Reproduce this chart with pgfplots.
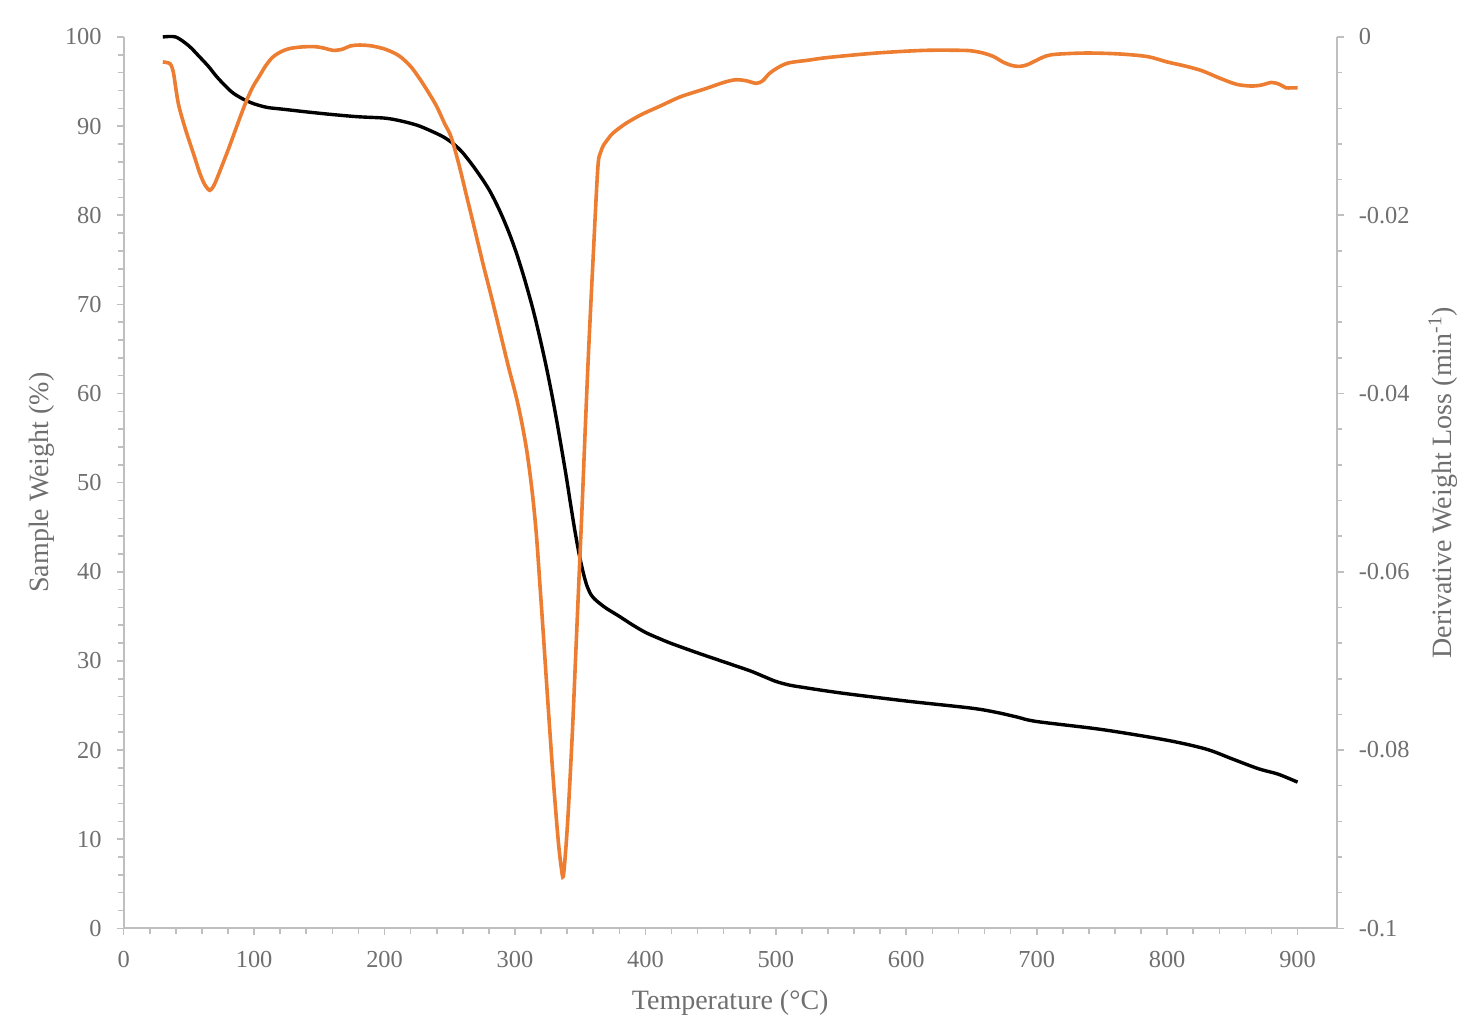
\documentclass[border=0pt]{standalone}
\usepackage{fontspec}
\setmainfont{Liberation Serif}
\usepackage{pgfplots}
\usepackage{pgfplotstable}
\pgfplotsset{compat=1.18}
\definecolor{axgray}{HTML}{BFBFBF}
\definecolor{txtgray}{HTML}{6F6F6F}
\definecolor{dtgorange}{HTML}{ED7D31}

\pgfplotstableread{
T W
30 100.0
40 100.0
50 99.0
58 97.8
65 96.7
71 95.6
78 94.5
84 93.7
92 93.0
100 92.5
110 92.1
122 91.9
140 91.6
160 91.3
180 91.05
200 90.9
212 90.6
225 90.1
235 89.5
245 88.8
252.5 88.05
260 87.0
270 85.1
280 82.9
288 80.6
295 78.2
301 75.8
307 73.0
313.7 69.5
319 66.3
324 63.0
328 60.1
331.7 57.2
335.5 54.0
339.3 50.7
342.5 47.7
345.7 44.8
348 42.9
350 41.4
352.5 39.8
355 38.5
358 37.5
361 36.95
365 36.45
370 35.9
380 35.0
390 34.05
400 33.2
410 32.55
420 31.95
440 30.9
460 29.9
480 28.9
490 28.3
500 27.7
510 27.3
520 27.05
550 26.4
600 25.5
650 24.7
670 24.2
685 23.7
700 23.2
750 22.3
800 21.1
830 20.1
850 19.0
870 17.9
885 17.3
900 16.4
}\tga

\pgfplotstableread{
T D
30 -0.0028
35.5 -0.0030
38.0 -0.0039
39.8 -0.0056
41.8 -0.0074
44.4 -0.0089
48.3 -0.0108
53.3 -0.0130
58.4 -0.0153
62.3 -0.0166
66 -0.0172
69 -0.0167
72 -0.0157
76 -0.0142
80 -0.0127
84 -0.0111
89 -0.0091
94 -0.0072
99 -0.0056
104 -0.0044
109 -0.0032
114 -0.0023
120 -0.0017
127 -0.0013
138 -0.0011
148 -0.0011
155 -0.0013
160.4 -0.0015
167 -0.0014
174 -0.0010
181 -0.0009
190 -0.0010
199 -0.0013
206 -0.0017
212 -0.0022
220 -0.0033
227 -0.0047
234 -0.0063
240 -0.0078
246 -0.0097
251 -0.0112
257 -0.0143
263 -0.0179
269 -0.0215
275.4 -0.0254
282 -0.0292
288.2 -0.0329
295 -0.0370
301 -0.0404
305 -0.0431
308.7 -0.0461
311.5 -0.0490
314 -0.0521
316.5 -0.0560
319 -0.0612
321.5 -0.0665
324 -0.0720
326.5 -0.0774
329 -0.0826
331.5 -0.0873
333.5 -0.0907
335.5 -0.0932
337 -0.0942
339 -0.0910
341 -0.0865
344 -0.0780
346.5 -0.0695
349 -0.0610
351.5 -0.0525
354 -0.0435
356.5 -0.0350
360 -0.0245
363.5 -0.0147
365.5 -0.0130
368 -0.0121
370 -0.0117
375 -0.0108
385 -0.0097
397 -0.0087
412 -0.0077
427 -0.0067
446 -0.0058
460 -0.0051
469 -0.0048
477 -0.0049
485 -0.0052
490 -0.0049
495 -0.0041
502 -0.0034
510 -0.0029
525 -0.0026
540 -0.0023
577 -0.0018
614 -0.0015
644 -0.0015
652 -0.0016
659 -0.0018
667 -0.0022
674 -0.0028
681 -0.0032
687 -0.0033
693 -0.0031
700 -0.0026
711 -0.0020
737 -0.0018
763 -0.0019
785 -0.0022
800 -0.0028
815 -0.0033
827 -0.0038
840 -0.0046
853 -0.0053
864 -0.0055
872 -0.0054
880 -0.0051
886 -0.0053
891 -0.0057
895 -0.0057
900 -0.0057
}\dtg

\pgfplotsset{
  common/.style={
    width=606.5pt, height=445.65pt, scale only axis,
    at={(0,0)}, anchor=south west,
    xmin=0, xmax=930,
    tick align=outside,
    /pgf/number format/assume math mode=true,
    tick label style={font=\fontsize{12.2}{14}\selectfont, text=txtgray},
    label style={font=\fontsize{14}{17}\selectfont, text=txtgray},
    axis line style={axgray, line width=1pt},
    major tick style={axgray, line width=0.8pt},
    minor tick style={axgray, line width=0.8pt},
    major tick length=3.5pt,
    minor tick length=2.6pt,
    clip=false,
  }
}

\begin{document}
\begin{tikzpicture}
\useasboundingbox (-61.85pt,-42.85pt) rectangle (669.65pt,464.15pt);
\begin{axis}[common,
  axis x line*=bottom, axis y line*=left,
  ymin=0, ymax=100,
  xtick={0,100,...,900}, minor x tick num=4,
  ytick={0,10,...,100}, minor y tick num=4,
  xticklabel style={yshift=-4.5pt},
  yticklabel style={xshift=-4pt},
  xlabel={Temperature (°C)},
  ylabel={Sample Weight (\%)},
  xlabel style={at={(axis description cs:0.5,-0.084)}, anchor=center},
  ylabel style={at={(axis description cs:-0.0674,0.5)}, anchor=center},
]
\addplot[black, line width=1.7pt, smooth, tension=0.5] table[x=T,y=W]{\tga};
\end{axis}
\begin{axis}[common,
  axis x line=none, axis y line*=right,
  ymin=-0.1, ymax=0,
  ytick={-0.1,-0.08,-0.06,-0.04,-0.02,0},
  yticklabels={-0.1,-0.08,-0.06,-0.04,-0.02,0},
  scaled y ticks=false,
  minor y tick num=4,
  yticklabel style={xshift=4pt},
  ylabel={Derivative Weight Loss (min\textsuperscript{-1})},
  ylabel style={at={(axis description cs:1.0877,0.5)}, anchor=center},
]
\addplot[dtgorange, line width=1.8pt, smooth, tension=0.5] table[x=T,y=D]{\dtg};
\end{axis}
\end{tikzpicture}
\end{document}
